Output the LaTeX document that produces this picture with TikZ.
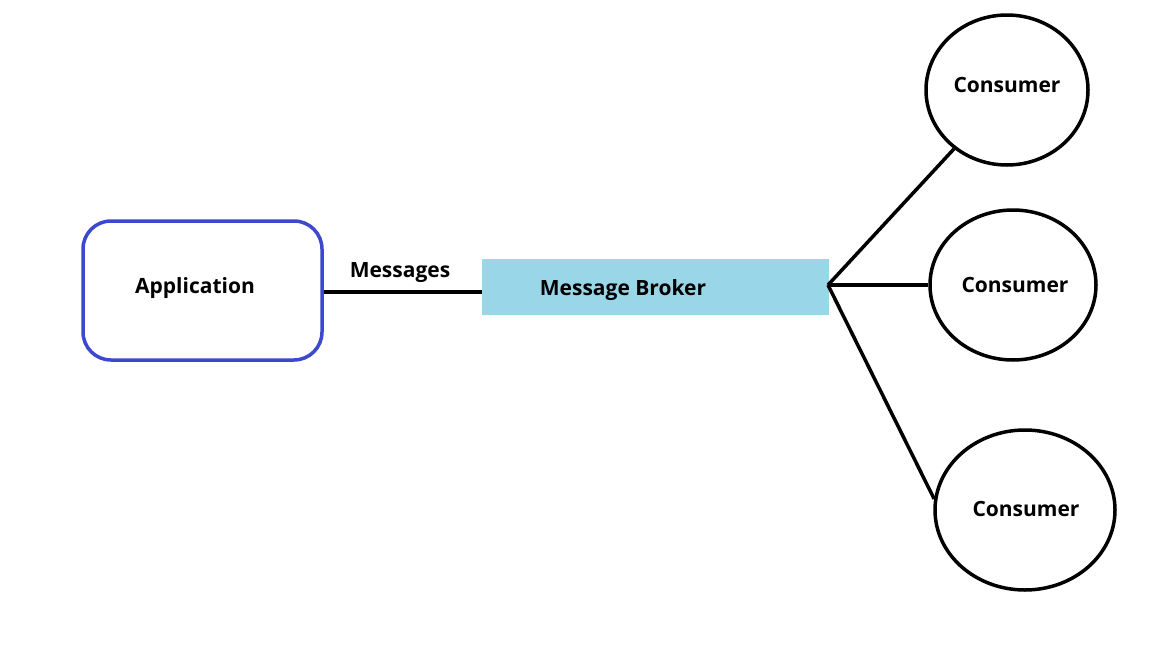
\documentclass[tikz,border=0pt]{standalone}
\usepackage{fontspec}
\setmainfont{Open Sans}
\usetikzlibrary{shapes.geometric}
\definecolor{appblue}{RGB}{60,72,205}
\definecolor{brokerfill}{RGB}{152,214,232}
\begin{document}
\begin{tikzpicture}[x=1pt,y=-1pt,
  lbl/.style={font=\bfseries\fontsize{21}{24}\selectfont},
  cons/.style={ellipse,draw=black,line width=3.5pt,inner sep=0pt},
  conn/.style={line width=3.5pt}]
\useasboundingbox[fill=white] (0,0) rectangle (1152,648);
\node[draw=appblue,line width=3.5pt,rounded corners=28pt,minimum width=239pt,minimum height=139pt,anchor=center] (app) at (202.5,290.5) {};
\node[lbl] (al) at (195,288) {Application};
\node[fill=brokerfill,minimum width=347pt,minimum height=56pt,inner sep=0pt,anchor=center] (broker) at (655.5,287) {};
\node[lbl] (bl) at (623,290) {Message Broker};
\node[lbl] (msg) at (400,273) {Messages};
\node[cons,minimum width=162pt,minimum height=150pt] (c1) at (1007,90) {};
\node[cons,minimum width=166pt,minimum height=150pt] (c2) at (1013,285) {};
\node[cons,minimum width=180pt,minimum height=160pt] (c3) at (1025,510) {};
\node[lbl] (t1) at (1007,85) {Consumer};
\node[lbl] (t2) at (1015,285) {Consumer};
\node[lbl] (t3) at (1026,509) {Consumer};
\draw[conn] (app.east |- 0,292) -- (broker.west |- 0,292);
\coordinate (hub) at (828,285);
\draw[conn] (hub) -- (c1.228);
\draw[conn] (hub) -- (c2.west);
\draw[conn] (hub) -- (c3.173);
\end{tikzpicture}
\end{document}
